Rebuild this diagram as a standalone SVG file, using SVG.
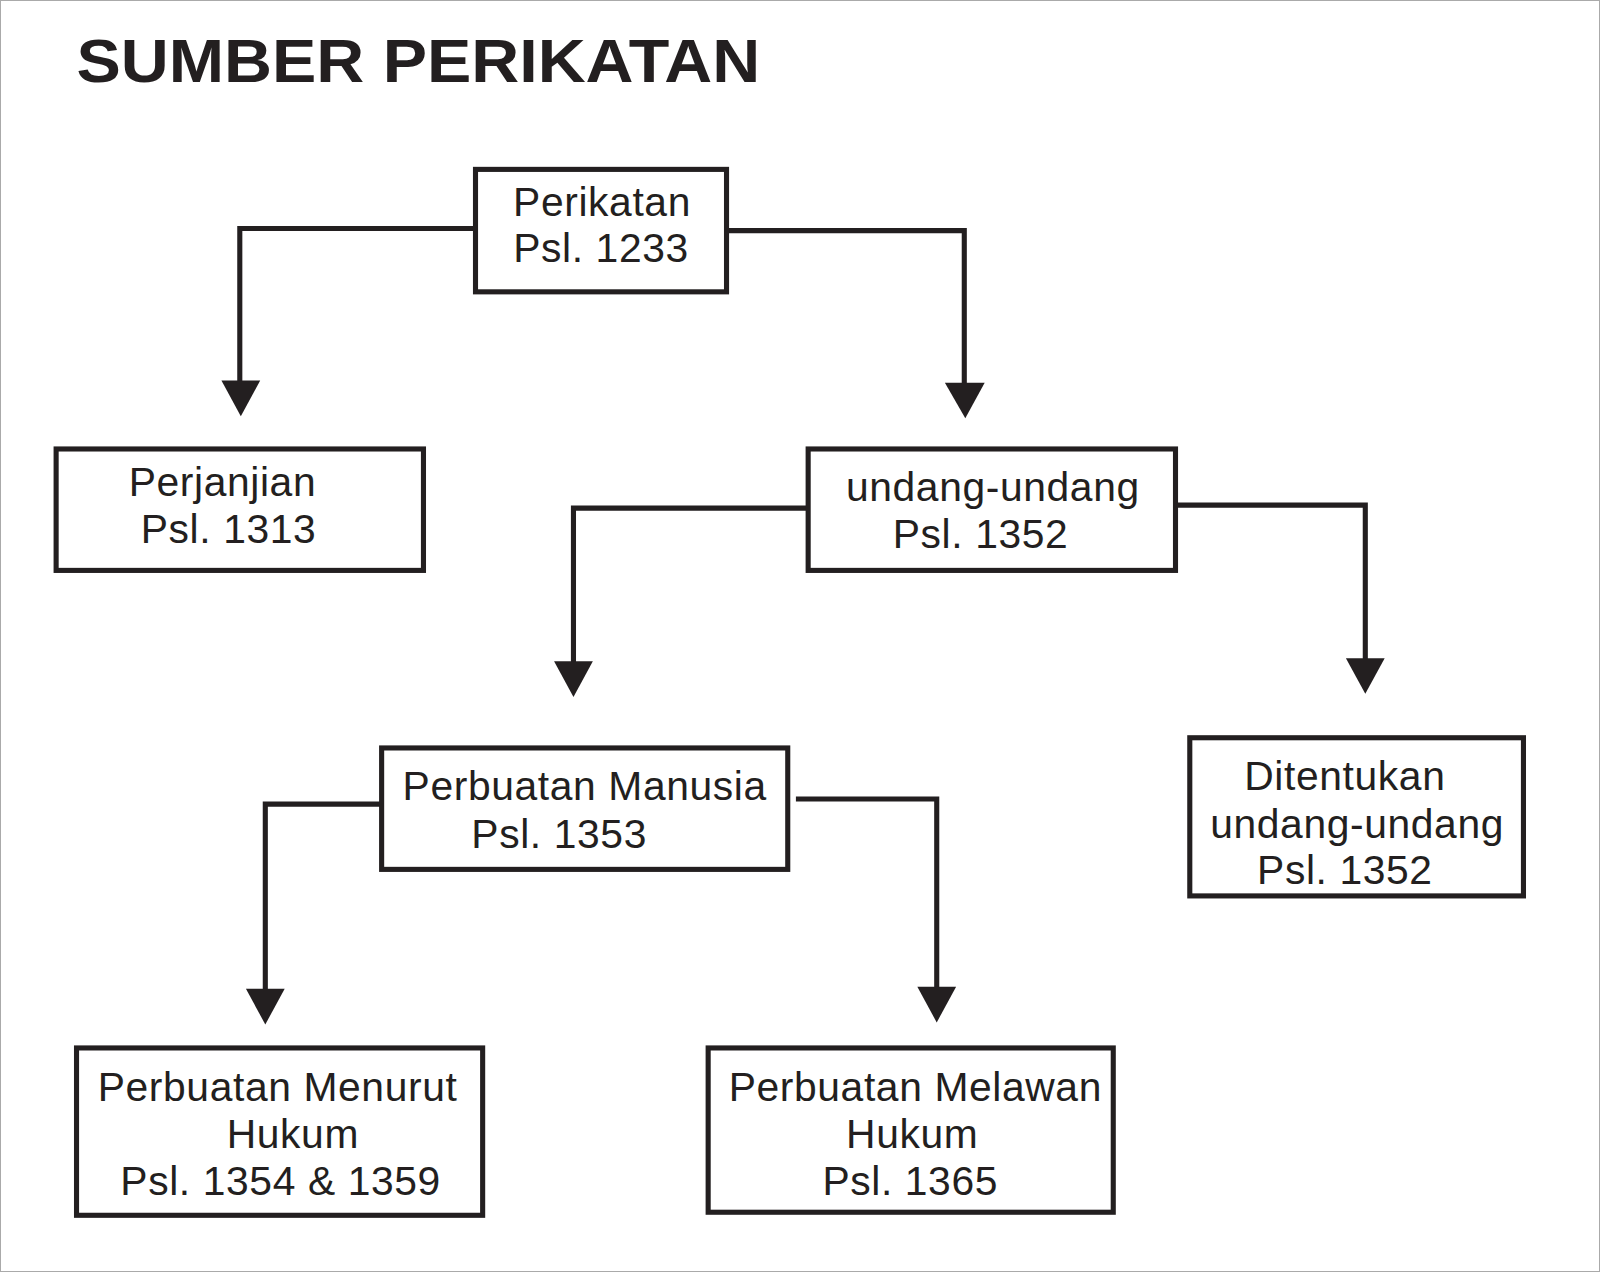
<svg xmlns="http://www.w3.org/2000/svg" width="1600" height="1272" viewBox="0 0 1600 1272">
<style>
.b{fill:#fff;stroke:#231f20;stroke-width:5}
.t{font-family:"Liberation Sans",Arial,sans-serif;font-size:40px;letter-spacing:0.6px;fill:#231f20;text-anchor:middle}
.c{fill:none;stroke:#231f20;stroke-width:5}
.h{fill:#231f20}
</style>
<rect x="0" y="0" width="1600" height="1272" fill="#fff" stroke="#aaa" stroke-width="2"/>
<g transform="scale(1.0204)">
<text x="75" y="80" textLength="670" lengthAdjust="spacingAndGlyphs" style="font-family:'Liberation Sans',Arial,sans-serif;font-size:60px;font-weight:bold;fill:#231f20">SUMBER PERIKATAN</text>
<g id="connectors">
<polyline class="c" points="466,224 235,224 235,378"/><polygon class="h" points="217,373 255,373 236,408"/>
<polyline class="c" points="712,226 945,226 945,380"/><polygon class="h" points="926,375 965,375 946,410"/>
<polyline class="c" points="792,498 562,498 562,653"/><polygon class="h" points="543,648 581,648 562,683"/>
<polyline class="c" points="1152,495 1338,495 1338,650"/><polygon class="h" points="1319,645 1357,645 1338,680"/>
<polyline class="c" points="374,788 260,788 260,974"/><polygon class="h" points="241,969 279,969 260,1004"/>
<polyline class="c" points="780,783 918,783 918,972"/><polygon class="h" points="899,967 937,967 918,1002"/>
</g>
<g id="perikatan"><rect class="b" x="466" y="166" width="246" height="120"/><text class="t" x="590" y="212">Perikatan</text><text class="t" x="589" y="257">Psl. 1233</text></g>
<g id="perjanjian"><rect class="b" x="55" y="440" width="360" height="119"/><text class="t" x="218" y="486">Perjanjian</text><text class="t" x="224" y="532">Psl. 1313</text></g>
<g id="undang"><rect class="b" x="792" y="440" width="360" height="119"/><text class="t" x="973" y="491">undang-undang</text><text class="t" x="961" y="537">Psl. 1352</text></g>
<g id="manusia"><rect class="b" x="374" y="733" width="398" height="119"/><text class="t" x="573" y="784">Perbuatan Manusia</text><text class="t" x="548" y="831">Psl. 1353</text></g>
<g id="ditentukan"><rect class="b" x="1166" y="723" width="327" height="155"/><text class="t" x="1318" y="774">Ditentukan</text><text class="t" x="1330" y="821">undang-undang</text><text class="t" x="1318" y="866">Psl. 1352</text></g>
<g id="menurut"><rect class="b" x="75" y="1027" width="398" height="164"/><text class="t" x="272" y="1079">Perbuatan Menurut</text><text class="t" x="287" y="1125">Hukum</text><text class="t" x="275" y="1171">Psl. 1354 &amp; 1359</text></g>
<g id="melawan"><rect class="b" x="694" y="1027" width="397" height="161"/><text class="t" x="897" y="1079">Perbuatan Melawan</text><text class="t" x="894" y="1125">Hukum</text><text class="t" x="892" y="1171">Psl. 1365</text></g>
</g>
</svg>
